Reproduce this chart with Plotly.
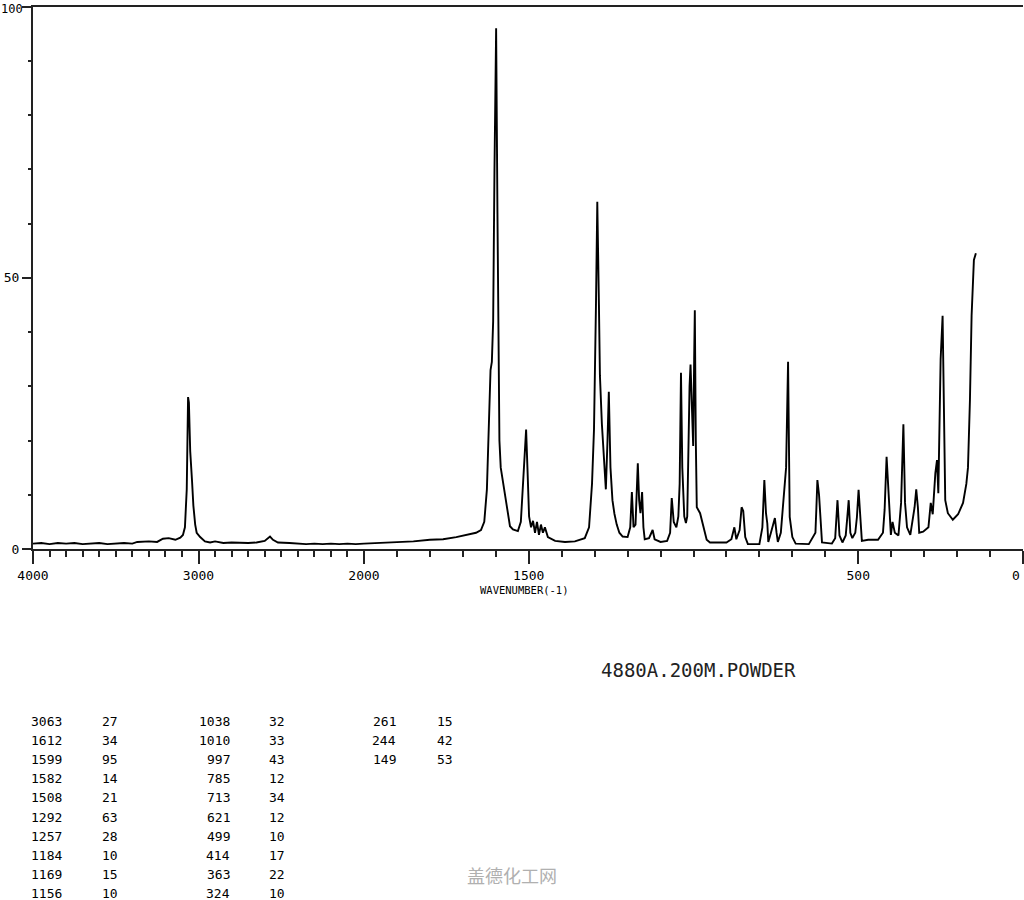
import plotly.graph_objects as go

# ---------------- spectrum ----------------
wavenumber = [
    4000, 3950, 3900, 3850, 3800, 3750, 3700, 3650, 3600, 3550, 3500, 3450, 3400, 3370,
    3300, 3250, 3215, 3180, 3140, 3110, 3094, 3082, 3071, 3066, 3063, 3058, 3050, 3039,
    3031, 3020, 3011, 2990, 2961, 2930, 2900, 2850, 2800, 2700, 2650, 2600, 2580, 2568,
    2550, 2520, 2450, 2400, 2350, 2300, 2250, 2200, 2150, 2100, 2050, 2000,
    1950, 1900, 1850, 1800, 1760, 1720, 1690, 1660, 1645, 1635, 1627, 1621, 1616, 1612,
    1608, 1604, 1599, 1595, 1591, 1589, 1585, 1581, 1575, 1569, 1563, 1557, 1548, 1533,
    1524, 1516, 1512, 1508, 1504, 1499, 1493, 1487, 1481, 1475, 1469, 1463, 1457, 1451,
    1442, 1420, 1390, 1360, 1330, 1317, 1308, 1302, 1296, 1292, 1287, 1284, 1278, 1272,
    1266, 1261, 1257, 1252, 1246, 1240, 1233, 1225, 1215, 1200, 1192, 1187, 1182, 1176,
    1172, 1169, 1165, 1161, 1156, 1152, 1148, 1135, 1124, 1118, 1100, 1080, 1071, 1066,
    1060, 1052, 1046, 1042, 1038, 1034, 1028, 1023, 1019, 1016, 1012, 1009, 1005, 1001,
    998, 996, 993, 990, 980, 970, 960, 950, 900, 885, 876, 870, 860, 854,
    849, 843, 835, 800, 791, 785, 780, 776, 773, 765, 753, 748, 744, 735,
    727, 719, 713, 708, 700, 690, 650, 630, 627, 624, 619, 614, 610, 580,
    570, 563, 557, 548, 538, 533, 529, 524, 518, 509, 504, 499, 494, 489,
    470, 440, 425, 420, 414, 405, 401, 396, 389, 378, 370, 363, 358, 352,
    342, 329, 324, 319, 315, 303, 287, 280, 274, 266, 261, 257, 250, 244,
    240, 236, 228, 213, 197, 182, 172, 167, 161, 156, 149, 143,
]
intensity = [
    1.0, 1.1, 0.9, 1.1, 1.0, 1.1, 0.9, 1.0, 1.1, 0.9, 1.0, 1.1, 1.0, 1.3,
    1.4, 1.3, 1.9, 2.0, 1.7, 2.1, 2.6, 4.0, 11, 22, 28, 27, 18, 12.5,
    8, 4.5, 3, 2.2, 1.4, 1.2, 1.4, 1.1, 1.2, 1.1, 1.2, 1.5, 2.0, 2.3,
    1.7, 1.2, 1.1, 1.0, 0.9, 1.0, 0.9, 1.0, 0.9, 1.0, 0.9, 1.0,
    1.1, 1.3, 1.4, 1.7, 1.8, 2.2, 2.6, 3.0, 3.5, 5, 11, 25, 33, 34.5,
    42, 70, 96, 62, 35, 20, 15, 13.5, 11, 9, 6, 4.2, 3.6, 3.3,
    5, 13, 19, 22, 15, 6, 4, 5.2, 3, 5, 2.6, 4.5, 3, 4,
    2.2, 1.5, 1.3, 1.4, 2, 4, 12, 22, 45, 64, 45, 32, 23, 17,
    11, 20, 29, 15, 9, 6.5, 4.5, 3, 2.3, 2.2, 4, 10.5, 4, 4.5,
    12, 15.8, 9, 6.6, 10.5, 4, 1.8, 2, 3.5, 1.8, 1.3, 1.5, 3, 9.4,
    5, 4, 6, 12, 32.5, 15, 6, 4.8, 6, 17, 30, 34, 24, 19,
    35, 44, 20, 7.7, 6.6, 4, 1.7, 1.2, 1.2, 1.8, 4, 1.8, 3.5, 7.7,
    7, 2.2, 0.9, 0.9, 4, 12.7, 6.6, 4.7, 1.3, 3, 5.7, 3, 1.3, 3,
    9, 15, 34.5, 5.9, 2.2, 1.0, 0.9, 3, 7.6, 12.7, 10, 4, 1.2, 1.0,
    2, 9, 2.5, 1.2, 2.5, 6, 9, 3, 2, 3, 5.9, 10.9, 5, 1.5,
    1.7, 1.7, 3, 7.2, 17, 7.2, 2.6, 5, 3, 2.5, 8.5, 23, 8.5, 4,
    2.6, 7.7, 11, 7.7, 3, 3.2, 4, 8.5, 6.4, 14, 16.4, 10.3, 35, 43,
    26, 9, 6.6, 5.4, 6.4, 8.5, 12, 15, 27.5, 43, 53.3, 54.5,
]

# ---------------- peak table ----------------
peak_wavenumber = [3063, 1612, 1599, 1582, 1508, 1292, 1257, 1184, 1169, 1156,
                   1038, 1010, 997, 785, 713, 621, 499, 414, 363, 324,
                   261, 244, 149]
peak_intensity = [27, 34, 95, 14, 21, 63, 28, 10, 15, 10,
                  32, 33, 43, 12, 34, 12, 10, 17, 22, 10,
                  15, 42, 53]
sample_label = "4880A.200M.POWDER"
x_title = "WAVENUMBER(-1)"
watermark = "盖德化工网"

x_ticks_high = [4000, 3000, 2000]
x_ticks_low = [1500, 500, 0]
y_ticks = [0, 50, 100]

# ---------------- layout helpers ----------------
W, H = 1024, 900
def fx(px):
    return px / W
def fy(py):
    return 1 - py / H

LEFT, SPLIT, RIGHT, TOP, BOTTOM = 33, 364, 1023, 6.5, 549
FONT = "DejaVu Sans Mono"
AX = "#222222"

hi_x = [w for w in wavenumber if w >= 2000]
hi_y = [i for w, i in zip(wavenumber, intensity) if w >= 2000]
lo_x = [w for w in wavenumber if w <= 2000]
lo_y = [i for w, i in zip(wavenumber, intensity) if w <= 2000]

fig = go.Figure()
fig.add_trace(go.Scatter(x=hi_x, y=hi_y, mode="lines", xaxis="x", yaxis="y",
                         line=dict(color="black", width=1.9), showlegend=False,
                         hoverinfo="skip"))
fig.add_trace(go.Scatter(x=lo_x, y=lo_y, mode="lines", xaxis="x2", yaxis="y",
                         line=dict(color="black", width=1.9), showlegend=False,
                         hoverinfo="skip"))

common_x = dict(showgrid=False, zeroline=False, showline=True, linecolor=AX,
                linewidth=2, mirror=True, ticks="outside", ticklen=13,
                tickwidth=1.5, tickcolor=AX, anchor="y", automargin=False,
                ticklabeloverflow="allow",
                tickfont=dict(family=FONT, size=13, color="black"))

# edge labels ("0" at the right end, "100" at the top) are drawn as annotations
x_low_text = [str(v) if v != 0 else "" for v in x_ticks_low]
y_text = [str(v) if v != 100 else "" for v in y_ticks]

fig.update_layout(
    width=W, height=H, margin=dict(l=0, r=0, t=0, b=0, autoexpand=False),
    paper_bgcolor="white", plot_bgcolor="white",
    xaxis=dict(domain=[fx(LEFT), fx(SPLIT)], range=[4000, 2000],
               tickvals=x_ticks_high, ticktext=[str(v) for v in x_ticks_high],
               minor=dict(ticks="outside", ticklen=6, tickwidth=1.5, tickcolor=AX,
                          tickvals=list(range(3900, 2000, -100))),
               **common_x),
    xaxis2=dict(domain=[fx(SPLIT), fx(RIGHT)], range=[2000, 0],
                tickvals=x_ticks_low, ticktext=x_low_text,
                minor=dict(ticks="outside", ticklen=6, tickwidth=1.5, tickcolor=AX,
                           tickvals=list(range(1900, 0, -100))),
                **common_x),
    yaxis=dict(domain=[fy(BOTTOM), fy(TOP)], range=[0, 100], anchor="x",
               showgrid=False, zeroline=False, showline=True, linecolor=AX,
               linewidth=2, ticks="outside", ticklen=9, tickwidth=1.5, tickcolor=AX,
               automargin=False, ticklabeloverflow="allow",
               tickvals=y_ticks, ticktext=y_text,
               tickfont=dict(family=FONT, size=13, color="black"),
               minor=dict(ticks="outside", ticklen=3, tickwidth=2, tickcolor=AX,
                          tickvals=list(range(10, 100, 10)))),
)

annotations = []
annotations.append(dict(x=fx(25), y=1, xref="paper", yref="paper",
                        text=str(y_ticks[-1]), showarrow=False, xanchor="right", yanchor="top",
                        font=dict(family=FONT, size=12, color="black")))
annotations.append(dict(x=fx(1022), y=fy(575), xref="paper", yref="paper",
                        text=str(x_ticks_low[-1]), showarrow=False, xanchor="right", yanchor="middle",
                        font=dict(family=FONT, size=13, color="black")))
annotations.append(dict(x=fx(524), y=fy(590), xref="paper", yref="paper",
                        text=x_title, showarrow=False, xanchor="center", yanchor="middle",
                        font=dict(family=FONT, size=10.5, color="black")))
annotations.append(dict(x=fx(698), y=fy(670), xref="paper", yref="paper",
                        text=sample_label, showarrow=False, xanchor="center", yanchor="middle",
                        font=dict(family=FONT, size=19, color="#222222")))
annotations.append(dict(x=fx(512), y=fy(875), xref="paper", yref="paper",
                        text=watermark, showarrow=False, xanchor="center", yanchor="middle",
                        font=dict(family="Noto Sans CJK SC", size=18, color="#b0b0b0")))

col_right = [(64, 120), (232, 287), (398, 455)]
row0, row_step = 721.5, 19.1
for k, (wn, it) in enumerate(zip(peak_wavenumber, peak_intensity)):
    g, r = divmod(k, 10)
    cw, ci = col_right[g]
    py = row0 + r * row_step
    for txt, cx in ((str(wn), cw), (str(it), ci)):
        annotations.append(dict(x=fx(cx), y=fy(py), xref="paper", yref="paper",
                                text=txt, showarrow=False, xanchor="right", yanchor="middle",
                                font=dict(family=FONT, size=13, color="black")))
fig.update_layout(annotations=annotations)

fig.write_html("out.html", config={"displayModeBar": False},
               post_script="document.body.style.margin='0px';")
